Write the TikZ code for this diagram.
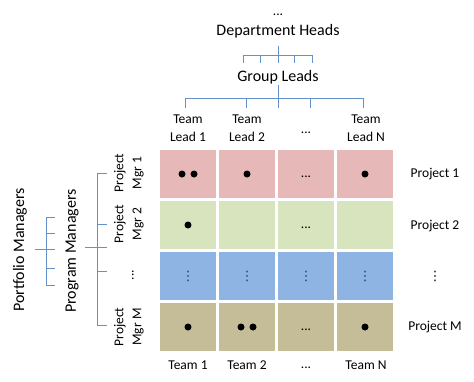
\documentclass[tikz,border=0pt]{standalone}
\usepackage{fontspec}
\setmainfont{Carlito}
\newfontfamily\symfont{DejaVu Sans}
\usetikzlibrary{calc}

\definecolor{cellred}{RGB}{230,184,183}
\definecolor{cellgreen}{RGB}{215,228,189}
\definecolor{cellblue}{RGB}{142,180,227}
\definecolor{celltan}{RGB}{196,189,151}
\definecolor{treeblue}{RGB}{100,145,200}
\definecolor{dotnavy}{RGB}{31,56,100}

\tikzset{
 head/.style={font=\fontsize{16}{19}\selectfont, inner sep=0pt},
 lbl/.style={font=\fontsize{13.5}{18}\selectfont, align=center, inner sep=0pt},
 vdot/.style={font=\symfont\fontsize{13}{15}\selectfont, inner sep=0pt},
 cell/.style={minimum width=56pt, minimum height=48pt, inner sep=0pt},
 tree/.style={draw=treeblue, line width=1pt},
}

\begin{document}
\begin{tikzpicture} [x=1pt, y=-1pt]
\useasboundingbox (0,0) rectangle (474,381);
\node[lbl] (topdots) at (278,15) {...};
\node[head] (dept) at (278,31) {Department Heads};
\node[head] (group) at (278,77) {Group Leads};
\coordinate (d0) at (278,46);
\draw[tree] (d0) -- ++(0,17);
\draw[tree] (243,55) -- (312,55);
\foreach \x in {243,260,294,312} {
 \draw[tree] (\x,55) --++(0,8);
}
\coordinate (g0) at (278,85);
\draw[tree] (g0) -- ++(0,23);
\draw[tree] (185,98) -- (363,98);
\foreach \x in {185,246,310,363} {
 \draw[tree] (\x,98) --++(0,10);
}
\node[lbl] (tl1) at (188,128) {Team\\Lead 1};
\node[lbl] (tl2) at (247,128) {Team\\Lead 2};
\node[lbl] (tldots) at (306,133) {...};
\node[lbl] (tlN) at (366,128) {Team\\Lead N};
\foreach \c [count=\i] in {cellred,cellgreen,cellblue,celltan} {
 \foreach \j in {1,...,4} {
  \node[cell, fill=\c] (c\i\j) at ({188+59*(\j-1)}, {174+51*(\i-1)}) {};
 }
}
\foreach \n in {c12,c14,c21,c41,c44} {
 \fill (\n) circle (3.5pt);
}
\foreach \n in {c11,c42} {
 \fill ([xshift=-6pt]\n.center) circle (3.5pt) ([xshift=6pt]\n.center) circle (3.5pt);
}
\foreach \n in {c13,c23,c43} {
 \node[lbl] (e\n) at ([yshift=-2.5pt]\n.center) {...};
}
\foreach \n in {c31,c32,c33,c34} {
 \node[vdot, text=dotnavy] (v\n) at (\n) {⋮};
}
\node[lbl] (p1) at (435,174) {Project 1};
\node[lbl] (p2) at (435,226) {Project 2};
\node[vdot] (pdots) at (435,276) {⋮};
\node[lbl] (pM) at (435,327) {Project M};
\node[lbl] (t1) at (188,365) {Team 1};
\node[lbl] (t2) at (247,365) {Team 2};
\node[lbl] (tdots) at (306,368) {...};
\node[lbl] (tN) at (366,365) {Team N};
\node[lbl, rotate=90] (pm1) at (129,173) {Project\\Mgr 1};
\node[lbl, rotate=90] (pm2) at (129,224) {Project\\Mgr 2};
\node[lbl, rotate=90] (pmdots) at (133,275) {...};
\node[lbl, rotate=90] (pmM) at (129,327) {Project\\Mgr M};
\node[head, rotate=90] (prog) at (72,251) {Program Managers};
\node[head, rotate=90] (port) at (20,250) {Portfolio Managers};
\coordinate (pg0) at (85,247);
\draw[tree] (pg0) -- ++(22,0);
\draw[tree] (97,173) -- (97,325);
\foreach \y in {173,224,271,325} {
 \draw[tree] (97,\y) --++(10,0);
}
\coordinate (pf0) at (35,249);
\draw[tree] (pf0) -- ++(20,0);
\draw[tree] (46,217) -- (46,285);
\foreach \y in {217,233,268,285} {
 \draw[tree] (46,\y) --++(9,0);
}
\end{tikzpicture}
\end{document}
